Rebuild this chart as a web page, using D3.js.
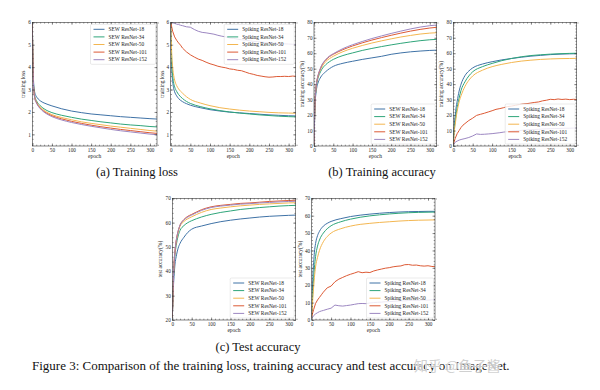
<!DOCTYPE html>
<html><head><meta charset="utf-8">
<script src="https://cdn.jsdelivr.net/npm/d3@7"></script>
<style>body{margin:0;background:#fff}svg{display:block}</style>
</head><body><svg id="c" width="600" height="390"></svg>
<script>
// ---------- DATA ----------
const epochs   = [0,1,2,3,5,7,10,15,20,30,40,50,75,100,125,150,175,200,225,250,275,300,320];
const epochs10 = [0,5,10,15,20,25,30,40,50,60,70,80,90,100,110,120,130,140,150,160,170,180,190,200,210,220,230,240,250,260,270,280,290,300,310,320];

const xTicks = [0,50,100,150,200,250,300];
const lossTicks = [1,2,3,4,5,6];
const accTicks = [0,10,20,30,40,50,60,70,80];
const sewTestTicks = [20,30,40,50,60,70];
const spkTestTicks = [0,10,20,30,40,50,60,70];

const sewNames = ["SEW ResNet-18","SEW ResNet-34","SEW ResNet-50","SEW ResNet-101","SEW ResNet-152"];
const spkNames = ["Spiking ResNet-18","Spiking ResNet-34","Spiking ResNet-50","Spiking ResNet-101","Spiking ResNet-152"];

// (a) training loss, SEW
const sewLoss18  = [6.0,5.0,4.0,3.45,3.0,2.82,2.7,2.58,2.5,2.4,2.33,2.27,2.14,2.04,1.97,1.91,1.87,1.83,1.79,1.76,1.73,1.7,1.68];
const sewLoss34  = [6.0,4.9,3.9,3.3,2.85,2.65,2.52,2.38,2.28,2.14,2.04,1.97,1.85,1.76,1.68,1.62,1.56,1.51,1.46,1.42,1.39,1.35,1.33];
const sewLoss50  = [6.0,4.85,3.85,3.25,2.8,2.6,2.47,2.32,2.22,2.07,1.96,1.88,1.75,1.65,1.56,1.49,1.43,1.37,1.32,1.27,1.22,1.17,1.14];
const sewLoss101 = [6.0,4.8,3.8,3.2,2.77,2.57,2.44,2.28,2.17,2.02,1.91,1.83,1.69,1.58,1.49,1.41,1.34,1.28,1.22,1.17,1.12,1.07,1.04];
const sewLoss152 = [6.0,4.8,3.8,3.2,2.75,2.55,2.42,2.26,2.15,1.99,1.88,1.79,1.64,1.53,1.44,1.36,1.29,1.22,1.16,1.11,1.06,1.01,0.98];
// (a) training loss, Spiking
const spkLoss18  = [6.0,5.0,4.3,3.8,3.35,3.1,2.9,2.72,2.6,2.46,2.37,2.3,2.19,2.1,2.04,1.99,1.96,1.93,1.9,1.87,1.85,1.83,1.82];
const spkLoss34  = [6.0,5.2,4.6,4.1,3.65,3.35,3.12,2.92,2.78,2.6,2.47,2.38,2.24,2.14,2.06,2.0,1.95,1.91,1.87,1.84,1.81,1.79,1.78];
const spkLoss50  = [6.0,5.4,4.9,4.45,4.0,3.7,3.42,3.18,3.03,2.84,2.68,2.56,2.4,2.28,2.19,2.13,2.08,2.04,2.01,1.98,1.96,1.95,1.94];
const spkLoss101 = [6.0,5.6,5.35,5.2,5.08,4.98,4.85,4.68,4.55,4.45,4.36,4.3,4.22,4.15,4.1,4.04,4.0,3.97,3.92,3.9,3.86,3.84,3.78,3.72,3.68,3.63,3.6,3.57,3.55,3.56,3.58,3.58,3.59,3.58,3.6,3.59];
const spkLoss152 = [6.0,5.98,5.95,5.92,5.9,5.87,5.85,5.8,5.78,5.68,5.6,5.55,5.53,5.5,5.47,5.42,5.38,5.35,5.3,5.28,5.25,5.22,5.2,5.18,5.15,5.14,5.12,5.1,5.09,5.07,5.06,5.05,5.04,5.03,5.02,5.01];

// (b) training accuracy, SEW
const sewAcc18  = [1,12,22,28,34,37.5,40.5,43.5,45.5,48,50,51.5,53.5,54.8,56,57,58,59.3,60.2,60.9,61.4,61.8,62];
const sewAcc34  = [1,12,22,29,36,40,43.5,47,49.5,52.5,54.5,56,58.5,60.2,61.8,63.1,64.3,65.4,66.4,67.3,68.1,68.7,69.0];
const sewAcc50  = [1,12,23,30,37,41,44.5,48.5,51,54.5,56.5,58,61,63.2,65,66.6,68,69.3,70.5,71.5,72.4,73,73.3];
const sewAcc101 = [1,12,23,30,37.5,41.5,45,49,52,55.5,57.8,59.3,62.3,64.7,66.7,68.5,70.1,71.6,73,74.3,75.4,76.3,76.8];
const sewAcc152 = [1,12,23,30,37.5,41.5,45,49.2,52.2,55.8,58.2,59.7,63,65.5,67.6,69.5,71.2,72.8,74.3,75.7,76.9,77.8,78.3];
// (b) training accuracy, Spiking
const spkAcc18  = [3,8,12,15,20,24.5,29,35.5,40,45.5,48.5,50.5,53,54.5,55.7,56.6,57.4,58.1,58.6,59.1,59.4,59.6,59.7];
const spkAcc34  = [2,6,9,12,16,20,25,31,36,41.5,45.3,48,51.3,53.4,55.2,56.6,57.7,58.5,59.0,59.4,59.7,59.9,60.0];
const spkAcc50  = [1.5,5,8,10.5,14,18,22.5,28.5,32.5,38.5,42.5,45.3,49,51.3,52.8,54,54.9,55.5,56,56.3,56.5,56.6,56.7];
const spkAcc101 = [1,5,8,10,12,13.5,14.5,16.5,18,19.8,20.5,21.2,22,22.8,23.7,24.2,24.8,25.5,25.8,26.3,26.8,27.2,27.4,27.8,28.2,28.5,29.2,29.6,30.2,30.0,30.4,30.1,30.3,30.0,30.2,30.1];
const spkAcc152 = [1,2.5,3.2,3.8,4.2,4.5,4.8,5.5,6.5,7.8,7.5,7.6,7.8,8.0,8.3,8.6,9.0,9.3,9.6,9.8,10.0,10.2,10.4,10.5,10.7,10.8,11.0,11.1,11.2,11.3,11.3,11.4,11.5,11.5,11.6,11.6];

// (c) test accuracy, SEW
const sewTest18  = [21,25,30,34,39,43,46,49.5,51.5,54,56,57.3,58.6,59.6,60.4,61,61.5,61.9,62.3,62.6,62.8,63,63.1];
const sewTest34  = [21,26,32,37,43,47,50.5,54.5,56.8,58.8,60,60.8,62.3,63.4,64.2,64.8,65.4,65.8,66.2,66.5,66.8,67,67.1];
const sewTest50  = [21,26,32,37.5,44,48,52,56,58.5,60.5,61.6,62.4,64.2,65.4,66.0,66.5,66.9,67.2,67.5,67.7,67.9,68.1,68.2];
const sewTest101 = [21,26,32.5,38,44.5,48.5,52.5,56.5,59,61.3,62.6,63.4,65.3,66.5,67.1,67.5,67.9,68.1,68.4,68.7,68.9,69.1,69.2];
const sewTest152 = [21,26,32.5,38,44.5,48.5,52.5,56.5,59,61.1,62.3,63.1,65,66.2,66.8,67.2,67.6,67.8,68.1,68.3,68.5,68.7,68.8];
// (c) test accuracy, Spiking
const spkTest18  = [2,10,18,25,33,39,44,48.5,51,54,55.6,56.7,58.3,59.5,60.3,60.9,61.4,61.8,62.1,62.3,62.4,62.5,62.5];
const spkTest34  = [1.5,7,12,17,24,30,36.5,42.5,46,50,52.5,54.2,56.5,58,59.1,59.9,60.5,61,61.4,61.7,61.9,62,62.1];
const spkTest50  = [1,5,9,13,19,24.5,30.5,36,40,45,48,50,52.5,54,55,55.6,56.1,56.5,56.9,57.2,57.4,57.5,57.6];
const spkTest101 = [2,6,9.5,11.5,13,14.5,16,18.5,19.5,22,23.5,24.5,25.5,26.3,27,27.8,27.2,27.5,27.3,28.2,28.8,29.3,29.8,30.1,30.6,30.9,31.1,31.8,31.9,31.5,31.6,31.2,31.0,31.2,30.8,30.6];
const spkTest152 = [1,2.5,3.5,4.2,4.8,5.2,5.5,6.2,6.8,8.6,8.2,8.0,8.3,8.6,9.0,9.4,9.5,9.4,9.8,10.0,10.2,10.3,10.5,10.6,10.7,10.9,11.0,11.0,11.2,11.3,11.2,11.4,11.5,11.4,11.6,11.6];

// ---------- STYLE / LAYOUT ----------
const colors = ["#3f72a6","#2fa57a","#f3b650","#dc5a35","#9c87c1"];
const serif = "'Liberation Serif','DejaVu Serif',serif";

const panels = [
  {box:[32.3,157,22.3,146], yDomain:[0.48,6], yTicks:lossTicks, yMinor:0.2, ylabel:"training loss", lo:6,
   names:sewNames, legend:"top", lw:65,
   series:[[epochs,sewLoss18],[epochs,sewLoss34],[epochs,sewLoss50],[epochs,sewLoss101],[epochs,sewLoss152]]},
  {box:[170.7,295.7,22.3,146], yDomain:[0.48,6], yTicks:lossTicks, yMinor:0.2, ylabel:"training loss", lo:6,
   names:spkNames, legend:"top", lw:70,
   series:[[epochs,spkLoss18],[epochs,spkLoss34],[epochs,spkLoss50],[epochs10,spkLoss101,1],[epochs10,spkLoss152,1]]},
  {box:[314,436.7,22.3,146], yDomain:[0,80], yTicks:accTicks, yMinor:2, ylabel:"training accuracy(%)", lo:9,
   names:sewNames, legend:"bottom", lw:64,
   series:[[epochs,sewAcc18],[epochs,sewAcc34],[epochs,sewAcc50],[epochs,sewAcc101],[epochs,sewAcc152]]},
  {box:[453.3,576.7,22.3,146], yDomain:[0,80], yTicks:accTicks, yMinor:2, ylabel:"training accuracy(%)", lo:9,
   names:spkNames, legend:"bottom", lw:70,
   series:[[epochs,spkAcc18],[epochs,spkAcc34],[epochs,spkAcc50],[epochs10,spkAcc101,1],[epochs10,spkAcc152,1]]},
  {box:[172.3,295.7,198.3,320], yDomain:[20,70], yTicks:sewTestTicks, yMinor:2, ylabel:"test accuracy(%)", lo:9,
   names:sewNames, legend:"bottom", lw:64,
   series:[[epochs,sewTest18],[epochs,sewTest34],[epochs,sewTest50],[epochs,sewTest101],[epochs,sewTest152]]},
  {box:[311.7,435,198.3,320], yDomain:[0,70], yTicks:spkTestTicks, yMinor:2, ylabel:"test accuracy(%)", lo:9,
   names:spkNames, legend:"bottom", lw:67,
   series:[[epochs,spkTest18],[epochs,spkTest34],[epochs,spkTest50],[epochs10,spkTest101,1],[epochs10,spkTest152,1]]}
];

const svg = d3.select("#c");
svg.append("rect").attr("width",600).attr("height",390).attr("fill","#fff");

panels.forEach((p,pi) => {
  const [x0,x1,y0,y1] = p.box;
  const x = d3.scaleLinear().domain([0,318]).range([x0,x1]);
  const y = d3.scaleLinear().domain(p.yDomain).range([y1,y0]);
  const g = svg.append("g");
  const cid = "clip"+pi;
  g.append("clipPath").attr("id",cid).append("rect")
    .attr("x",x0).attr("y",y0).attr("width",x1-x0).attr("height",y1-y0);

  const lines = g.append("g").attr("clip-path",`url(#${cid})`);
  p.series.forEach((s,i) => {
    const pts = s[0].map((e,k)=>[e,s[1][k]]).filter(d=>d[1]!==undefined);
    const line = d3.line().x(d=>x(d[0])).y(d=>y(d[1]))
      .curve(s[2] ? d3.curveLinear : d3.curveMonotoneX);
    lines.append("path").attr("d",line(pts)).attr("fill","none")
      .attr("stroke",colors[i]).attr("stroke-width",1);
  });

  // axes
  const fmt = d3.format("d");
  const xMinor = d3.range(0,321,10);
  const [ya,yb] = p.yDomain;
  const yMinor = d3.range(Math.ceil(ya/p.yMinor)*p.yMinor, yb+1e-9, p.yMinor);
  const styleAxis = sel => {
    sel.select(".domain").remove();
    sel.selectAll("line").attr("stroke","#333").attr("stroke-width",0.5);
    sel.selectAll("text").attr("font-family",serif).attr("font-size",5.2).attr("fill","#222");
  };
  g.append("g").attr("transform",`translate(0,${y1})`)
    .call(d3.axisBottom(x).tickValues(xMinor).tickSize(-1.3).tickFormat("")).call(styleAxis);
  g.append("g").attr("transform",`translate(0,${y0})`)
    .call(d3.axisTop(x).tickValues(xMinor).tickSize(-1.3).tickFormat("")).call(styleAxis);
  g.append("g").attr("transform",`translate(0,${y1})`)
    .call(d3.axisBottom(x).tickValues(xTicks).tickSize(-2.5).tickPadding(2).tickFormat(fmt)).call(styleAxis);
  g.append("g").attr("transform",`translate(0,${y0})`)
    .call(d3.axisTop(x).tickValues(xTicks).tickSize(-2.5).tickFormat("")).call(styleAxis);
  g.append("g").attr("transform",`translate(${x0},0)`)
    .call(d3.axisLeft(y).tickValues(yMinor).tickSize(-1.3).tickFormat("")).call(styleAxis);
  g.append("g").attr("transform",`translate(${x1},0)`)
    .call(d3.axisRight(y).tickValues(yMinor).tickSize(-1.3).tickFormat("")).call(styleAxis);
  g.append("g").attr("transform",`translate(${x0},0)`)
    .call(d3.axisLeft(y).tickValues(p.yTicks).tickSize(-2.5).tickPadding(1.5).tickFormat(fmt)).call(styleAxis);
  g.append("g").attr("transform",`translate(${x1},0)`)
    .call(d3.axisRight(y).tickValues(p.yTicks).tickSize(-2.5).tickFormat("")).call(styleAxis);

  g.append("rect").attr("x",x0).attr("y",y0).attr("width",x1-x0).attr("height",y1-y0)
    .attr("fill","none").attr("stroke","#333").attr("stroke-width",0.6);

  g.append("text").attr("x",(x0+x1)/2).attr("y",y1+12)
    .attr("text-anchor","middle").attr("font-family",serif).attr("font-size",5.5).attr("fill","#222").text("epoch");
  g.append("text").attr("transform",`translate(${x0-p.lo-1},${(y0+y1)/2}) rotate(-90)`)
    .attr("text-anchor","middle").attr("font-family",serif).attr("font-size",5.5).attr("fill","#222").text(p.ylabel);

  // legend
  const lh = 40, bx = x1 - p.lw - 1.5;
  const by = p.legend === "top" ? y0 + 2 : y1 - lh - 2;
  const lg = g.append("g").attr("transform",`translate(${bx},${by})`);
  lg.append("rect").attr("width",p.lw).attr("height",lh).attr("rx",1.2)
    .attr("fill","#fff").attr("fill-opacity",0.82).attr("stroke","#d4d4d4").attr("stroke-width",0.5);
  p.names.forEach((n,i) => {
    const yy = 5 + i*7.6;
    lg.append("line").attr("x1",3).attr("x2",14).attr("y1",yy).attr("y2",yy)
      .attr("stroke",colors[i]).attr("stroke-width",1);
    lg.append("text").attr("x",18).attr("y",yy+1.8).attr("font-family",serif)
      .attr("font-size",5.4).attr("fill","#222").text(n);
  });
});

// captions
const cap = (t,x,y,s,anchor) => svg.append("text").attr("x",x).attr("y",y).attr("text-anchor",anchor||"middle")
  .attr("font-family",serif).attr("font-size",s).attr("fill","#111").text(t);
cap("(a)  Training loss",137,176,12.5);
cap("(b)  Training accuracy",382,176,12.5);
cap("(c)  Test accuracy",258,351,12.5);
cap("Figure 3: Comparison of the training loss, training accuracy and test accuracy on ImageNet.",32,370,13,"start");
svg.append("text").attr("x",414).attr("y",371).attr("font-family","'Noto Sans CJK SC',sans-serif")
  .attr("font-size",14).attr("fill","#c8c8c8").attr("fill-opacity",0.85)
  .attr("stroke","#fff").attr("stroke-width",1.2).attr("stroke-opacity",0.7).attr("paint-order","stroke")
  .text("知乎 @鱼子酱");
</script></body></html>
